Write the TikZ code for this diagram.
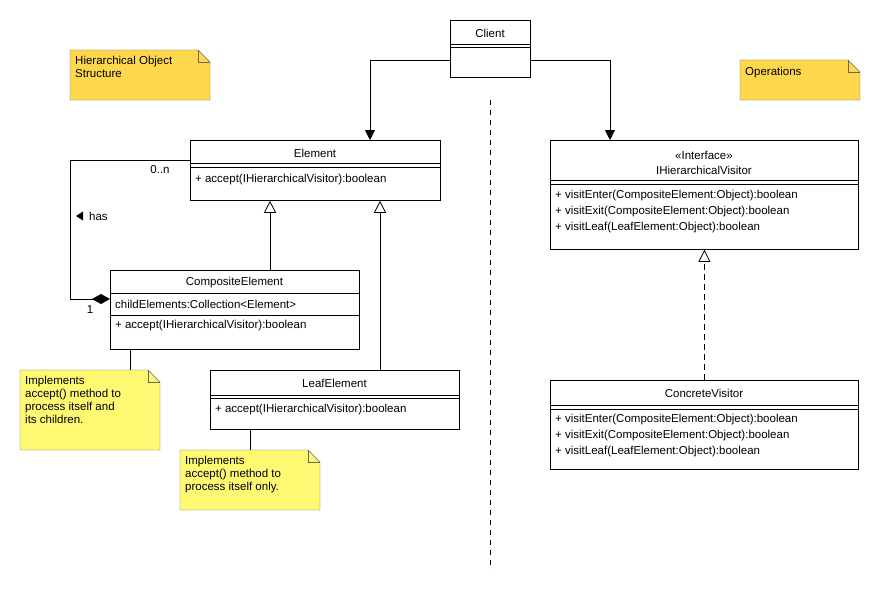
\documentclass[tikz,border=0pt]{standalone}
\usepackage{fontspec}
\setmainfont{Liberation Sans}
\usetikzlibrary{arrows.meta}
\begin{document}
\begin{tikzpicture}[x=1pt,y=-1pt,
  box/.style={draw,fill=white,line width=0.8pt,inner sep=0pt,anchor=north west},
  t/.style={font=\fontsize{11.5}{13}\selectfont,inner sep=0pt},
  op/.style={t,anchor=west},
  ln/.style={line width=0.8pt},
  dep/.style={ln,-{Triangle[length=10pt,width=10pt,fill=black]}},
  gen/.style={ln,-{Triangle[open,length=12pt,width=12pt,fill=white]}},
  onote/.style={fill=orange!45!yellow!70,draw=black!60},
  ynote/.style={fill=yellow!55,draw=black!60}]
\useasboundingbox (0,0) rectangle (880,610);
\newcommand{\cbox}[5]{% name, x1,y1,x2,y2
  \node[box,minimum width=#4-#2,minimum height=#5-#3] (#1) at (#2,#3) {};}
\newcommand{\notebox}[6]{% name,style,x1,y1,x2,y2
  \path[#2] (#3,#4) -- (#5-12,#4) -- (#5,#4+12) -- (#5,#6) -- (#3,#6) -- cycle;
  \draw[draw=black!60] (#5-12,#4) -- (#5-12,#4+12) -- (#5,#4+12);
  \coordinate (#1) at (#3,#4);}
% notes top
\notebox{n1}{onote}{70}{50}{210}{100}
\node[t,anchor=north west,align=left] (n1t) at (75,56) {Hierarchical Object\\Structure};
\notebox{n2}{onote}{740}{60}{860}{100}
\node[t,anchor=north west] (n2t) at (745,67) {Operations};
% separator
\draw[ln,dash pattern=on 5pt off 5pt] (490,100) -- (490,570);
% Client
\cbox{client}{450}{20}{530}{77}
\node[t] (clt) at (490,33) {Client};
\draw[ln] (450,44) -- (530,44) (450,47) -- (530,47);
% Element
\cbox{elem}{190}{140}{440}{200}
\node[t] (elt) at (315,153) {Element};
\draw[ln] (190,163) -- (440,163) (190,167) -- (440,167);
\node[op] (elo) at (195,180) {+ accept(IHierarchicalVisitor):boolean};
% Composite
\cbox{comp}{110}{270}{359}{349}
\node[t] (cot) at (234.5,283) {CompositeElement};
\draw[ln] (110,293) -- (359,293) (110,315) -- (359,315);
\node[op] (coa) at (115,304) {childElements:Collection<Element>};
\node[op] (coo) at (115,326) {+ accept(IHierarchicalVisitor):boolean};
% Leaf
\cbox{leaf}{210}{370}{459}{429}
\node[t] (let) at (334.5,383) {LeafElement};
\draw[ln] (210,395) -- (459,395) (210,398) -- (459,398);
\node[op] (leo) at (215,410) {+ accept(IHierarchicalVisitor):boolean};
% IHierarchicalVisitor
\cbox{ihv}{550}{140}{858}{249}
\node[t] (ihs) at (704,155) {«Interface»};
\node[t] (iht) at (704,170) {IHierarchicalVisitor};
\draw[ln] (550,180) -- (858,180) (550,184) -- (858,184);
\node[op] (ih1) at (555,196) {+ visitEnter(CompositeElement:Object):boolean};
\node[op] (ih2) at (555,212) {+ visitExit(CompositeElement:Object):boolean};
\node[op] (ih3) at (555,228) {+ visitLeaf(LeafElement:Object):boolean};
% ConcreteVisitor
\cbox{cv}{550}{380}{858}{469}
\node[t] (cvt) at (704,393) {ConcreteVisitor};
\draw[ln] (550,405) -- (858,405) (550,409) -- (858,409);
\node[op] (cv1) at (555,420) {+ visitEnter(CompositeElement:Object):boolean};
\node[op] (cv2) at (555,436) {+ visitExit(CompositeElement:Object):boolean};
\node[op] (cv3) at (555,452) {+ visitLeaf(LeafElement:Object):boolean};
% yellow notes
\notebox{n3}{ynote}{20}{370}{160}{450}
\node[t,anchor=north west,align=left] (n3t) at (25,376) {Implements\\accept() method to\\process itself and\\its children.};
\notebox{n4}{ynote}{180}{450}{320}{510}
\node[t,anchor=north west,align=left] (n4t) at (185,456) {Implements\\accept() method to\\process itself only.};
% connectors
\draw[dep] (client.west |- 0,60) -- (370,60) -- (elem.north -| 370,0);
\draw[dep] (client.east |- 0,60) -- (610,60) -- (ihv.north -| 610,0);
\draw[gen] (comp.north -| 270,0) -- (elem.south -| 270,0);
\draw[gen] (leaf.north -| 380,0) -- (elem.south -| 380,0);
\draw[gen,dash pattern=on 6pt off 4pt] (cv.north) -- (ihv.south);
\draw[ln] (comp.south -| 130,0) -- (n3 -| 130,0);
\draw[ln] (leaf.south -| 250,0) -- (n4 -| 250,0);
\draw[ln,{Diamond[length=18pt,width=10pt,fill=black]}-] (comp.west |- 0,299) -- (70,299) -- (70,160) -- (elem.west |- 0,160);
\node[t] (mul1) at (160,170) {0..n};
\node[t] (mul2) at (90,310) {1};
\fill (76,216) -- (83,211.5) -- (83,220.5) -- cycle;
\node[t,anchor=west] (has) at (89,216) {has};
\end{tikzpicture}
\end{document}
